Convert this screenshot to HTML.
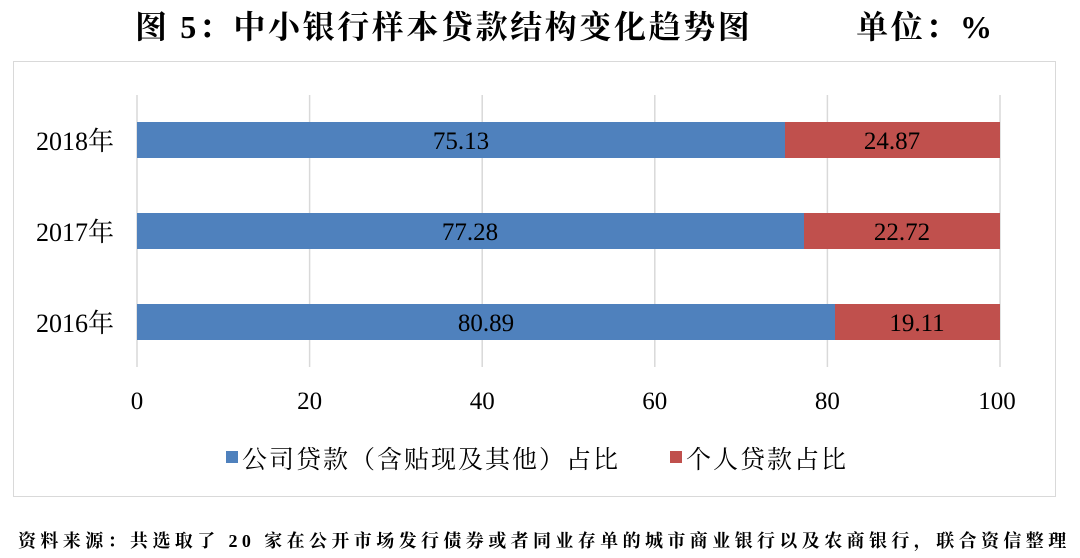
<!DOCTYPE html><html><head><meta charset="utf-8"><style>
body{margin:0;width:1080px;height:558px;background:#fff;position:relative;overflow:hidden;font-family:"Liberation Serif","Noto Serif CJK SC",serif;color:#000}
.a{position:absolute;white-space:nowrap}
</style></head><body>
<div class="a" style="left:135px;top:2px;font-size:32px;font-weight:bold;letter-spacing:2.6px">图 5：中小银行样本贷款结构变化趋势图　　　单位：%</div>
<div class="a" style="left:13px;top:61px;width:1043px;height:436px;border:1.5px solid #d9d9d9;box-sizing:border-box"></div>
<svg class="a" style="left:0;top:0" width="1080" height="558">
<g stroke="#d9d9d9" stroke-width="1.5">
<line x1="137" y1="95" x2="137" y2="367"/><line x1="309.6" y1="95" x2="309.6" y2="367"/><line x1="482.2" y1="95" x2="482.2" y2="367"/><line x1="654.8" y1="95" x2="654.8" y2="367"/><line x1="827.4" y1="95" x2="827.4" y2="367"/><line x1="1000" y1="95" x2="1000" y2="367"/></g>
<g fill="#4f81bd"><rect x="137" y="122" width="648" height="36"/><rect x="137" y="213" width="667" height="36"/><rect x="137" y="304" width="698" height="36"/></g>
<g fill="#c0504d"><rect x="785" y="122" width="215" height="36"/><rect x="804" y="213" width="196" height="36"/><rect x="835" y="304" width="165" height="36"/></g>
<g font-family="Liberation Serif,Noto Serif CJK SC,serif" font-size="25" text-anchor="middle">
<text x="461" y="149">75.13</text><text x="892" y="149">24.87</text>
<text x="470" y="240">77.28</text><text x="902" y="240">22.72</text>
<text x="486" y="331">80.89</text><text x="917" y="331">19.11</text>
<text x="137" y="409">0</text><text x="309.6" y="409">20</text><text x="482.2" y="409">40</text><text x="654.8" y="409">60</text><text x="827.4" y="409">80</text><text x="997" y="409">100</text>
</g>
<g font-family="Liberation Serif,Noto Serif CJK SC,serif" font-size="26" text-anchor="end"><text x="114" y="150">2018年</text><text x="114" y="241">2017年</text><text x="114" y="332">2016年</text></g>
<rect x="226" y="451" width="12" height="12" fill="#4f81bd"/><rect x="670" y="451" width="12" height="12" fill="#c0504d"/>
<g font-family="Liberation Serif,Noto Serif CJK SC,serif" font-size="25" letter-spacing="2"><text x="242" y="468">公司贷款（含贴现及其他）占比</text><text x="686" y="468">个人贷款占比</text></g>
</svg>
<div class="a" style="left:18px;top:527px;font-size:18px;font-weight:bold;letter-spacing:4.4px">资料来源：共选取了 20 家在公开市场发行债券或者同业存单的城市商业银行以及农商银行，联合资信整理</div>
</body></html>
